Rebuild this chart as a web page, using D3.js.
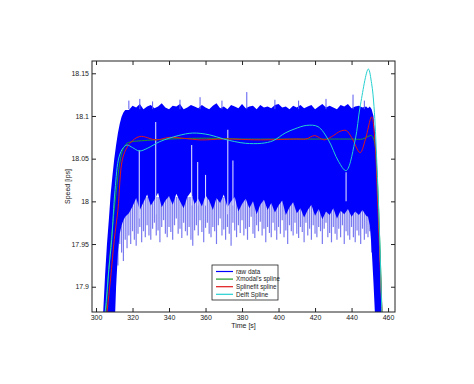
<!DOCTYPE html>
<html><head><meta charset="utf-8">
<script src="https://cdn.jsdelivr.net/npm/d3@7"></script>
<style>
html,body{margin:0;padding:0;background:#fff;}
svg{display:block;font-family:"Liberation Sans",Arial,sans-serif;}
</style></head>
<body>
<script>
// ---- data ----
const xTicks = [300, 320, 340, 360, 380, 400, 420, 440, 460];
const yTicks = [17.9, 17.95, 18, 18.05, 18.1, 18.15];
const yTickLabels = ["17.9", "17.95", "18", "18.05", "18.1", "18.15"];

const rawTime = [302,303,304,305,306,307,308,309,310,311,312,313,314,315,316,
 318,320,322,324,326,328,330,332,334,336,338,340,342,344,346,348,350,352,354,356,358,360,
 362,364,366,368,370,372,374,376,378,380,382,384,386,388,390,392,394,396,398,400,
 402,404,406,408,410,412,414,416,418,420,422,424,426,428,430,432,434,436,438,440,442,444,446,448,
 449,450,451,452,453,454,455,456,457,458];
const rawHigh = [17.80,17.84,17.873,17.915,17.950,17.978,18.008,18.030,18.050,18.066,18.080,18.091,18.099,18.104,18.107,
 18.107,18.112,18.110,18.114,18.108,18.111,18.113,18.109,18.111,18.115,
 18.110,18.108,18.112,18.111,18.114,18.108,18.110,18.113,18.111,18.109,
 18.113,18.110,18.108,18.112,18.115,18.109,18.111,18.108,18.113,18.111,
 18.109,18.114,18.109,18.111,18.112,18.108,18.113,18.110,18.111,18.109,
 18.113,18.114,18.110,18.111,18.108,18.112,18.110,18.113,18.109,18.111,
 18.113,18.108,18.111,18.114,18.110,18.112,18.110,18.108,18.113,18.111,
 18.114,18.109,18.111,18.112,18.110,18.111,
 18.109,18.111,18.108,18.100,18.075,18.035,17.965,17.900,17.840,17.800];
const rawLow = [17.78,17.78,17.78,17.78,17.78,17.78,17.79,17.80,17.84,17.90,17.94,17.962,17.972,17.978,17.982,
 17.986,17.994,18.004,17.990,17.999,18.008,17.995,18.002,18.010,17.993,
 18.001,18.006,17.996,18.009,18.000,17.992,18.005,18.011,17.997,18.003,
 17.994,18.007,18.001,17.990,18.004,17.998,18.008,17.993,18.000,18.005,
 17.988,17.997,18.003,17.992,18.000,17.985,17.996,18.002,17.990,17.998,
 17.987,17.995,18.001,17.984,17.993,17.999,17.986,17.992,17.981,17.990,
 17.996,17.983,17.991,17.979,17.988,17.984,17.992,17.980,17.989,17.985,
 17.991,17.982,17.988,17.984,17.990,17.983,
 17.982,17.972,17.945,17.905,17.860,17.800,17.780,17.780,17.780,17.780];

// light downward spikes of the raw signal, one per second from 311 s to 451 s
const spikeStart = 311;
const spikeMin = [
 17.935,17.925,17.950,17.940,17.930,17.955,17.945,17.960,17.950,17.965,
 17.955,17.948,17.962,17.970,17.952,17.965,17.958,17.972,17.960,17.955,
 17.968,17.975,17.960,17.966,17.952,17.970,17.978,17.962,17.958,17.970,
 17.964,17.955,17.972,17.980,17.962,17.968,17.957,17.975,17.965,17.960,
 17.970,17.955,17.948,17.966,17.972,17.960,17.978,17.964,17.952,17.969,
 17.975,17.962,17.958,17.970,17.965,17.950,17.972,17.980,17.960,17.967,
 17.955,17.970,17.962,17.948,17.975,17.966,17.958,17.972,17.963,17.978,
 17.960,17.968,17.955,17.970,17.982,17.962,17.957,17.972,17.965,17.976,
 17.960,17.968,17.952,17.970,17.963,17.958,17.975,17.966,17.955,17.970,
 17.962,17.978,17.958,17.966,17.950,17.972,17.965,17.960,17.975,17.962,
 17.957,17.970,17.964,17.952,17.975,17.960,17.968,17.955,17.972,17.962,
 17.958,17.970,17.965,17.950,17.968,17.975,17.958,17.963,17.952,17.970,
 17.962,17.955,17.968,17.958,17.972,17.950,17.965,17.960,17.955,17.970,
 17.958,17.952,17.966,17.960,17.950,17.968,17.955,17.962,17.958,17.965,
 17.940];
// upward spikes above the envelope
const upTime = [318, 324, 331, 346, 357, 369, 382.6, 398, 411, 426, 440.8, 447];
const upHigh = [18.118, 18.120, 18.117, 18.119, 18.122, 18.118, 18.128, 18.119, 18.118, 18.120, 18.125, 18.118];
// white gaps inside the raw band
const gapTime = [323.7, 332.7, 352.4, 355.7, 360, 372.2, 375, 437];
const gapTop = [18.060, 18.093, 18.066, 18.046, 18.031, 18.084, 18.048, 18.034];
const gapBottom = [17.980, 17.985, 17.995, 17.995, 17.995, 17.985, 17.995, 18.000];

// fitted splines
const xmodalTime = [303,305,307,309,311,313,315,317,320,325,340,360,380,400,420,440,446,449,451,452.5,454,455.5,457,459];
const xmodalVal  = [17.83,17.86,17.92,17.97,18.01,18.045,18.062,18.068,18.070,18.071,18.073,18.074,18.073,18.073,18.073,18.073,18.073,18.076,18.077,18.070,18.030,17.950,17.850,17.75];
const splinefitTime = [304,306,308,310,312,314.8,318.6,324,333,340.5,357,370,390,410,415,419.8,425,430,433.6,437,440,444.7,447.5,451,452.9,454.1,455.6,457,459];
const splinefitVal  = [17.83,17.87,17.91,17.955,17.99,18.052,18.068,18.076,18.072,18.075,18.072,18.073,18.072,18.073,18.073,18.077,18.072,18.077,18.082,18.083,18.075,18.057,18.072,18.099,18.068,18.010,17.930,17.850,17.75];
const delftTime = [303,305,307,308.6,310.4,312.6,315,317,320,323.7,328,335,345,353,362,370,376,382,390.8,397,403.6,409,415.5,421.6,427.3,432.8,437,442,444.7,449.2,451,452.3,453.8,455.2,456.5,458];
const delftVal  = [17.84,17.87,17.92,17.955,18.013,18.052,18.063,18.066,18.063,18.059,18.062,18.070,18.077,18.080,18.078,18.073,18.070,18.068,18.068,18.071,18.080,18.085,18.089,18.0875,18.072,18.047,18.036,18.072,18.111,18.155,18.138,18.111,18.048,17.970,17.876,17.75];

const legendLabels = ["raw data", "Xmodal's spline", "Splinefit spline", "Delft Spline"];
const colors = {raw:"#0000ff", xmodal:"#1f9a2a", splinefit:"#e01818", delft:"#25d0d0"};

// ---- layout ----
const W = 474, H = 384;
const L = 92, R = 395, T = 61, B = 312;
const x = d3.scaleLinear().domain([297.8, 463.8]).range([L, R]);
const y = d3.scaleLinear().domain([17.8704, 18.1644]).range([B, T]);

const svg = d3.select("body").append("svg").attr("width", W).attr("height", H);
svg.append("defs").append("clipPath").attr("id","clip")
  .append("rect").attr("x", L).attr("y", T).attr("width", R-L).attr("height", B-T);
const g = svg.append("g").attr("clip-path","url(#clip)");

// light spikes (below dark band)
g.append("g").selectAll("line").data(spikeMin).join("line")
  .attr("x1", (d,i) => x(spikeStart + i)).attr("x2", (d,i) => x(spikeStart + i))
  .attr("y1", y(18.005)).attr("y2", d => y(d))
  .attr("stroke", "#7a7af0").attr("stroke-width", 1.2);

// dark raw band
const raw = rawTime.map((t,i) => ({t, hi: rawHigh[i], lo: rawLow[i]}));
g.append("path").datum(raw)
  .attr("d", d3.area().x(d => x(d.t)).y0(d => y(d.lo)).y1(d => y(d.hi)))
  .attr("fill", colors.raw);

// upward spikes
g.append("g").selectAll("line").data(upTime).join("line")
  .attr("x1", d => x(d)).attr("x2", d => x(d))
  .attr("y1", y(18.108)).attr("y2", (d,i) => y(upHigh[i]))
  .attr("stroke", "#5a5af2").attr("stroke-width", 1);

// white gaps
g.append("g").selectAll("line").data(gapTime).join("line")
  .attr("x1", d => x(d)).attr("x2", d => x(d))
  .attr("y1", (d,i) => y(gapTop[i])).attr("y2", (d,i) => y(gapBottom[i]))
  .attr("stroke", "#d8d8ff").attr("stroke-width", 1.1);

// splines
const line = d3.line().x(d => x(d[0])).y(d => y(d[1])).curve(d3.curveCatmullRom.alpha(0.5));
function drawSpline(ts, vs, col) {
  g.append("path").datum(ts.map((t,i) => [t, vs[i]]))
    .attr("d", line).attr("fill","none").attr("stroke", col).attr("stroke-width", 1);
}
drawSpline(xmodalTime, xmodalVal, colors.xmodal);
drawSpline(splinefitTime, splinefitVal, colors.splinefit);
drawSpline(delftTime, delftVal, colors.delft);

// ---- axes ----
const fs = 7;
const axB = svg.append("g").attr("transform", `translate(0,${B})`)
  .call(d3.axisBottom(x).tickValues(xTicks).tickSize(-4).tickPadding(3));
const axT = svg.append("g").attr("transform", `translate(0,${T})`)
  .call(d3.axisTop(x).tickValues(xTicks).tickSize(-4).tickFormat(""));
const axLf = svg.append("g").attr("transform", `translate(${L},0)`)
  .call(d3.axisLeft(y).tickValues(yTicks).tickSize(-4).tickPadding(3)
    .tickFormat((d,i) => yTickLabels[i]));
const axRt = svg.append("g").attr("transform", `translate(${R},0)`)
  .call(d3.axisRight(y).tickValues(yTicks).tickSize(-4).tickFormat(""));
[axB, axT, axLf, axRt].forEach(a => {
  a.select(".domain").remove();
  a.selectAll("line").attr("stroke", "#222");
  a.selectAll("text").attr("font-size", fs).attr("fill", "#222")
    .attr("font-family", "'Liberation Sans', Arial, sans-serif");
});
svg.append("rect").attr("x", L).attr("y", T).attr("width", R-L).attr("height", B-T)
  .attr("fill","none").attr("stroke","#222").attr("stroke-width",1);

svg.append("text").attr("x", (L+R)/2).attr("y", 328).attr("text-anchor","middle")
  .attr("font-size", fs).attr("fill","#222").text("Time [s]");
svg.append("text").attr("transform", `translate(70,${(T+B)/2}) rotate(-90)`)
  .attr("text-anchor","middle").attr("font-size", fs).attr("fill","#222").text("Speed [ips]");

// ---- legend ----
const lg = svg.append("g");
lg.append("rect").attr("x", 212).attr("y", 265).attr("width", 66).attr("height", 35)
  .attr("fill","#fff").attr("stroke","#222").attr("stroke-width",0.8);
const legCols = [colors.raw, colors.xmodal, colors.splinefit, colors.delft];
legendLabels.forEach((lab, i) => {
  const yy = 271.5 + i * 7.6;
  lg.append("line").attr("x1", 216).attr("x2", 233).attr("y1", yy).attr("y2", yy)
    .attr("stroke", legCols[i]).attr("stroke-width", 1.2);
  lg.append("text").attr("x", 236).attr("y", yy + 2.2).attr("font-size", 6.3)
    .attr("fill","#222").text(lab);
});
</script>
</body></html>
